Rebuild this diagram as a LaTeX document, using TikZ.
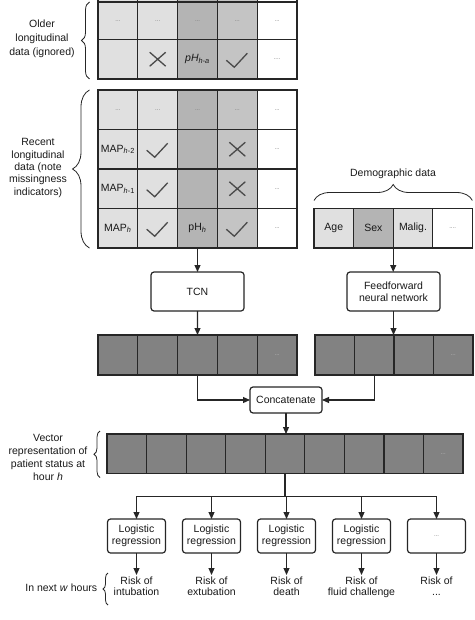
\documentclass[tikz,border=0pt]{standalone}
\usepackage{fontspec}
\setmainfont{Liberation Sans}
\usetikzlibrary{positioning, arrows.meta, decorations.pathreplacing}

\definecolor{cellA}{HTML}{E0E0E0}
\definecolor{cellB}{HTML}{B4B4B4}
\definecolor{cellC}{HTML}{C4C4C4}
\definecolor{embed}{HTML}{828282}
\definecolor{edge}{HTML}{262626}
\definecolor{markgray}{HTML}{4A4A4A}

\begin{document}
\begin{tikzpicture}[
x=1pt, y=-1pt, line width=1.1pt, color=edge,
>={Triangle[length=7pt, width=6pt]},
every node/.style={font=\fontsize{10.5}{12.5}\selectfont, text=black!90},
cell/.style={rectangle, draw=edge, line width=1.2pt, anchor=north west, inner sep=0pt, outer sep=0pt, minimum width=39.8pt, minimum height=39.5pt},
celldots/.style={font=\fontsize{6}{7}\selectfont, text=black!55},
embdots/.style={font=\fontsize{6}{7}\selectfont, text=black!25},
proc/.style={rectangle, draw=edge, line width=1.2pt, rounded corners=3pt, fill=white, align=center, inner sep=1pt, outer sep=0pt},
logit/.style={proc, minimum width=58pt, minimum height=34pt},
risk/.style={align=center, inner sep=1pt, font=\fontsize{10.5}{11.7}\selectfont},
curly/.style={decorate, decoration={brace, amplitude=#1}, draw=edge, line width=0.8pt},
present/.pic={\draw[markgray, line width=1.3pt] (-11,1) -- (-3,8) -- (10,-6);},
missing/.pic={\draw[markgray, line width=1.3pt] (-8,-7) -- (8,7) (-8,7) -- (8,-7);}
]
\useasboundingbox (0,0) rectangle (474,620);
\clip (0,0) rectangle (474,620);

%Older grid
\foreach \c/\col/\xx in {1/cellA/98, 2/cellA/137.8, 3/cellB/177.6, 4/cellC/217.4, 5/white/257.2} {
  \node[cell, fill=\col, minimum height=37.5pt] (old-0-\c) at (\xx,-35.5) {};
  \node[cell, fill=\col, minimum height=37.5pt] (old-1-\c) at (\xx,2) {};
  \node[cell, fill=\col] (old-2-\c) at (\xx,39.5) {};
  \node[celldots] (old-dots-\c) at (old-1-\c) {...};
}
\node (old-ph) at (old-2-3) {\textit{pH\textsubscript{h-a}}};
\node[celldots] (old-more) at (old-2-5) {....};
\pic at (old-2-2) {missing};
\pic at (old-2-4) {present};

%Recent grid
\foreach \c/\col/\xx in {1/cellA/98, 2/cellA/137.8, 3/cellB/177.6, 4/cellC/217.4, 5/white/257.2} {
  \foreach \r/\yy in {1/90, 2/129.5, 3/169, 4/208.5}
    \node[cell, fill=\col] (rec-\r-\c) at (\xx,\yy) {};
  \node[celldots] (rec-dots-\c) at (rec-1-\c) {...};
}
\node (rec-map2) at (rec-2-1) {MAP\textsubscript{\textit{h}-2}};
\node (rec-map1) at (rec-3-1) {MAP\textsubscript{\textit{h}-1}};
\node (rec-map0) at (rec-4-1) {MAP\textsubscript{\textit{h}}};
\node (rec-ph) at (rec-4-3) {pH\textsubscript{\textit{h}}};
\foreach \r in {2,3,4} {
  \node[celldots] (rec-more-\r) at (rec-\r-5) {...};
  \pic at (rec-\r-2) {present};
}
\pic at (rec-2-4) {missing};
\pic at (rec-3-4) {missing};
\pic at (rec-4-4) {present};

%Demographic data
\node[cell, fill=cellA, minimum width=39.6pt] (demo-1) at (314,208.5) {Age};
\node[cell, fill=cellB, minimum width=39.6pt, right=0pt of demo-1] (demo-2) {Sex};
\node[cell, fill=cellA, minimum width=39.6pt, right=0pt of demo-2] (demo-3) {Malig.};
\node[cell, fill=white, minimum width=39.6pt, right=0pt of demo-3, celldots] (demo-4) {....};

%Models
\node[proc, minimum width=93pt, minimum height=39pt] (tcn) at (197.5,291.5) {TCN};
\node[proc, minimum width=93pt, minimum height=39pt] (ffnn) at (393.5,291.5) {Feedforward\\neural network};

%Embeddings
\node[cell, fill=embed, minimum height=40pt] (temb-1) at (98,335) {};
\foreach \i [count=\j from 2] in {1,...,4}
  \node[cell, fill=embed, minimum height=40pt, right=0pt of temb-\i] (temb-\j) {};
\node[embdots] (temb-more) at (temb-5) {...};
\node[cell, fill=embed, minimum width=39.5pt, minimum height=40pt] (femb-1) at (315,335) {};
\foreach \i [count=\j from 2] in {1,...,3}
  \node[cell, fill=embed, minimum width=39.5pt, minimum height=40pt, right=0pt of femb-\i] (femb-\j) {};
\node[embdots] (femb-more) at (femb-4) {...};

\node[proc, minimum width=72pt, minimum height=26pt] (concat) at (286,400) {Concatenate};

%Vector
\node[cell, fill=embed, minimum width=39.56pt] (vec-1) at (107,434) {};
\foreach \i [count=\j from 2] in {1,...,8}
  \node[cell, fill=embed, minimum width=39.56pt, right=0pt of vec-\i] (vec-\j) {};
\node[embdots] (vec-more) at (vec-9) {...};

%Outputs
\node[logit] (lr1) at (136.5,536) {Logistic\\regression};
\node[logit, right=17pt of lr1] (lr2) {Logistic\\regression};
\node[logit, right=17pt of lr2] (lr3) {Logistic\\regression};
\node[logit, right=17pt of lr3] (lr4) {Logistic\\regression};
\node[logit, right=17pt of lr4, celldots] (lr5) {...};

\node[risk, below=22pt of lr1] (risk1) {Risk of\\intubation};
\node[risk, below=22pt of lr2] (risk2) {Risk of\\extubation};
\node[risk, below=22pt of lr3] (risk3) {Risk of\\death};
\node[risk, below=22pt of lr4] (risk4) {Risk of\\fluid challenge};
\node[risk, below=22pt of lr5] (risk5) {Risk of\\...};

%Labels
\node[align=center, font=\fontsize{10.5}{14}\selectfont] (older-lbl) at (42,39) {Older\\longitudinal\\data (ignored)};
\node[align=center, font=\fontsize{10.5}{12.3}\selectfont] (recent-lbl) at (38,168) {Recent\\longitudinal\\data (note\\missingness\\indicators)};
\node (demo-lbl) at (393,174) {Demographic data};
\node[align=center, font=\fontsize{10.5}{13}\selectfont] (vec-lbl) at (48,457) {Vector\\representation of\\patient status at\\hour \textit{h}};
\node[anchor=east] (next-lbl) at (101,588) {In next \textit{w} hours};

%Braces
\draw[curly=8pt] ([xshift=-8.5pt]old-2-1.south west) -- ([xshift=-8.5pt]old-1-1.north west);
\draw[curly=17pt] ([xshift=-8.5pt]rec-4-1.south west) -- ([xshift=-8.5pt]rec-1-1.north west);
\draw[curly=16pt] ([yshift=8pt]demo-1.north west) -- ([yshift=8pt]demo-4.north east);
\draw[curly=6pt] ([shift={(-7,4)}]vec-1.south west) -- ([shift={(-7,-3)}]vec-1.north west);
\draw[curly=5pt] (108,605) -- (108,573);

%Lines
\draw[->] (rec-4-3.south) -- (tcn.north);
\draw[->] (demo-2.south east) -- (demo-2.south east |- ffnn.north);
\draw[->] (tcn.south) -- (temb-3.north);
\draw[->] (ffnn.south) -- (ffnn.south |- femb-2.north east);
\draw[->] (temb-3.south) |- (concat.west);
\draw[->] (femb-2.south) |- (concat.east);
\draw[->] (concat.south) -- (concat.south |- vec-5.north);
\coordinate (split) at ([yshift=-23pt]vec-5.south);
\draw (vec-5.south) -- (split);
\foreach \i in {1,...,5} {
  \draw[->] (split) -| (lr\i.north);
  \draw[->] (lr\i.south) -- (risk\i.north);
}
\end{tikzpicture}
\end{document}
